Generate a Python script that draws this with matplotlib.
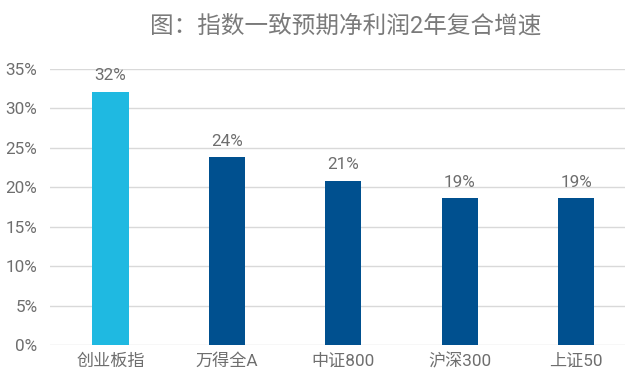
import matplotlib
matplotlib.use('Agg')
import matplotlib.pyplot as plt
import numpy as np

plt.rcParams['font.family'] = ['Roboto', 'Noto Sans CJK SC', 'DejaVu Sans']

categories = ['创业板指', '万得全A', '中证800', '沪深300', '上证50']
values = [32.1, 23.8, 20.8, 18.6, 18.6]
labels = ['32%', '24%', '21%', '19%', '19%']
colors = ['#1FB9E1', '#00508F', '#00508F', '#00508F', '#00508F']

fig = plt.figure(figsize=(6.4, 3.77), dpi=100)
ax = fig.add_axes([0.078, 0.085, 0.899, 0.732])

x = np.arange(len(categories))
ax.bar(x, values, width=0.31, color=colors, zorder=3)
for xi, v, lab in zip(x, values, labels):
    ax.text(xi, v + 1.1, lab, ha='center', va='bottom', fontsize=12.3, color='#6e6e6e')

ax.set_ylim(0, 35)
ax.set_xlim(-0.52, 4.42)
ax.set_yticks(np.arange(0, 36, 5))
ax.set_yticklabels(['%d%%' % t for t in range(0, 36, 5)])
ax.set_xticks(x)
ax.set_xticklabels(categories)
ax.tick_params(axis='both', length=0, labelsize=12.3, colors='#6e6e6e')
ax.tick_params(axis='x', pad=6)
ax.tick_params(axis='y', pad=9)
ax.grid(axis='y', color='#d9d9d9', linewidth=1, zorder=0)
for s in ax.spines.values():
    s.set_visible(False)

fig.text(0.54, 0.93, '图：指数一致预期净利润2年复合增速', ha='center', va='center',
         fontsize=17, color='#7a7a7a', family=['Roboto', 'Noto Sans CJK SC'])

fig.savefig('out.png', dpi=100, facecolor='white')
